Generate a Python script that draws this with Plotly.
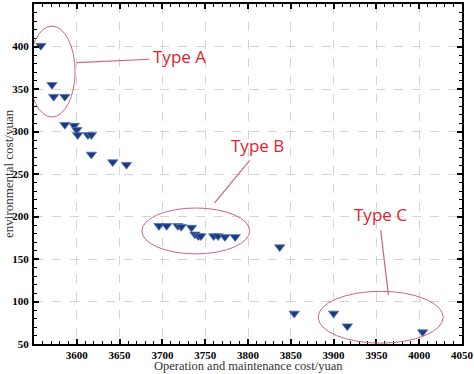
import plotly.graph_objects as go

om_cost = [3558, 3571, 3573, 3586, 3586, 3597, 3600, 3601, 3613, 3617, 3617, 3642, 3658,
           3696, 3705, 3718, 3722, 3734, 3738, 3742, 3745, 3760, 3765, 3773, 3785,
           3837, 3854, 3900, 3916, 4004]
env_cost = [401, 355, 341, 341, 308, 307, 302, 296, 296, 296, 273, 264, 261,
            189, 189, 189, 188, 187, 179, 177, 177, 177, 177, 176, 176,
            164, 86, 86, 71, 64]

x_ticks = [3600, 3650, 3700, 3750, 3800, 3850, 3900, 3950, 4000, 4050]
y_ticks = [50, 100, 150, 200, 250, 300, 350, 400, 450]

type_labels = ["Type A", "Type B", "Type C"]
label_x = [3720, 3811, 3955]
label_y = [388, 284, 202]
ellipses = [(3544, 3598, 317, 424), (3676, 3802, 156, 210), (3882, 4028, 51, 112)]
leaders = [(3600, 381, 3685, 385), (3802, 266, 3761, 216), (3955, 184, 3964, 108)]

red = "#e3202e"
pink = "#c8648a"

fig = go.Figure()
fig.add_trace(go.Scatter(
    x=om_cost, y=env_cost, mode="markers",
    marker=dict(symbol="triangle-down", size=9, color="#1d3b7c",
                line=dict(color="#4f75b5", width=0.8)),
    showlegend=False, cliponaxis=False,
))

shapes = []
for (x0, x1, y0, y1) in ellipses:
    shapes.append(dict(type="circle", xref="x", yref="y", x0=x0, x1=x1, y0=y0, y1=y1,
                       line=dict(color=pink, width=1)))
for (x0, y0, x1, y1) in leaders:
    shapes.append(dict(type="line", xref="x", yref="y", x0=x0, y0=y0, x1=x1, y1=y1,
                       line=dict(color=pink, width=1.2)))

annotations = []
for t, ax, ay in zip(type_labels, label_x, label_y):
    annotations.append(dict(x=ax, y=ay, xref="x", yref="y", text=t, showarrow=False,
                            font=dict(family="Open Sans", size=17, color=red)))
annotations.append(dict(x=0.5, y=0, xref="paper", yref="paper", yshift=-30,
                        text="Operation and maintenance cost/yuan", showarrow=False,
                        yanchor="bottom", xanchor="center", borderpad=0,
                        font=dict(family="Liberation Serif", size=12.5, color="#333")))
annotations.append(dict(x=0, y=0.5, xref="paper", yref="paper", xshift=-26,
                        text="environmental cost/yuan", showarrow=False, textangle=-90,
                        xanchor="center", yanchor="middle",
                        font=dict(family="Liberation Serif", size=13, color="#333")))

axis_common = dict(
    showline=True, linecolor="black", linewidth=2, mirror="allticks",
    ticks="inside", ticklen=5, tickwidth=1.5, tickcolor="black",
    showgrid=True, gridcolor="#d4d4d4", griddash="dash", gridwidth=1,
    zeroline=False, automargin=False,
    tickfont=dict(family="Liberation Serif", size=11, color="black", weight="bold"),
    minor=dict(ticks="inside", ticklen=3, tickwidth=1.2, tickcolor="black", dtick=10,
               showgrid=False),
)

fig.update_layout(
    width=474, height=374,
    margin=dict(l=34, r=12, t=4, b=30),
    paper_bgcolor="white", plot_bgcolor="white",
    shapes=shapes, annotations=annotations,
    xaxis=dict(range=[3550, 4050], tickvals=x_ticks, ticklabelstandoff=0, **axis_common),
    yaxis=dict(range=[50, 450], tickvals=y_ticks, ticklabelstandoff=1, **axis_common),
)

fig.write_html("out.html", config={"displayModeBar": False},
               post_script="document.body.style.margin='0';")
